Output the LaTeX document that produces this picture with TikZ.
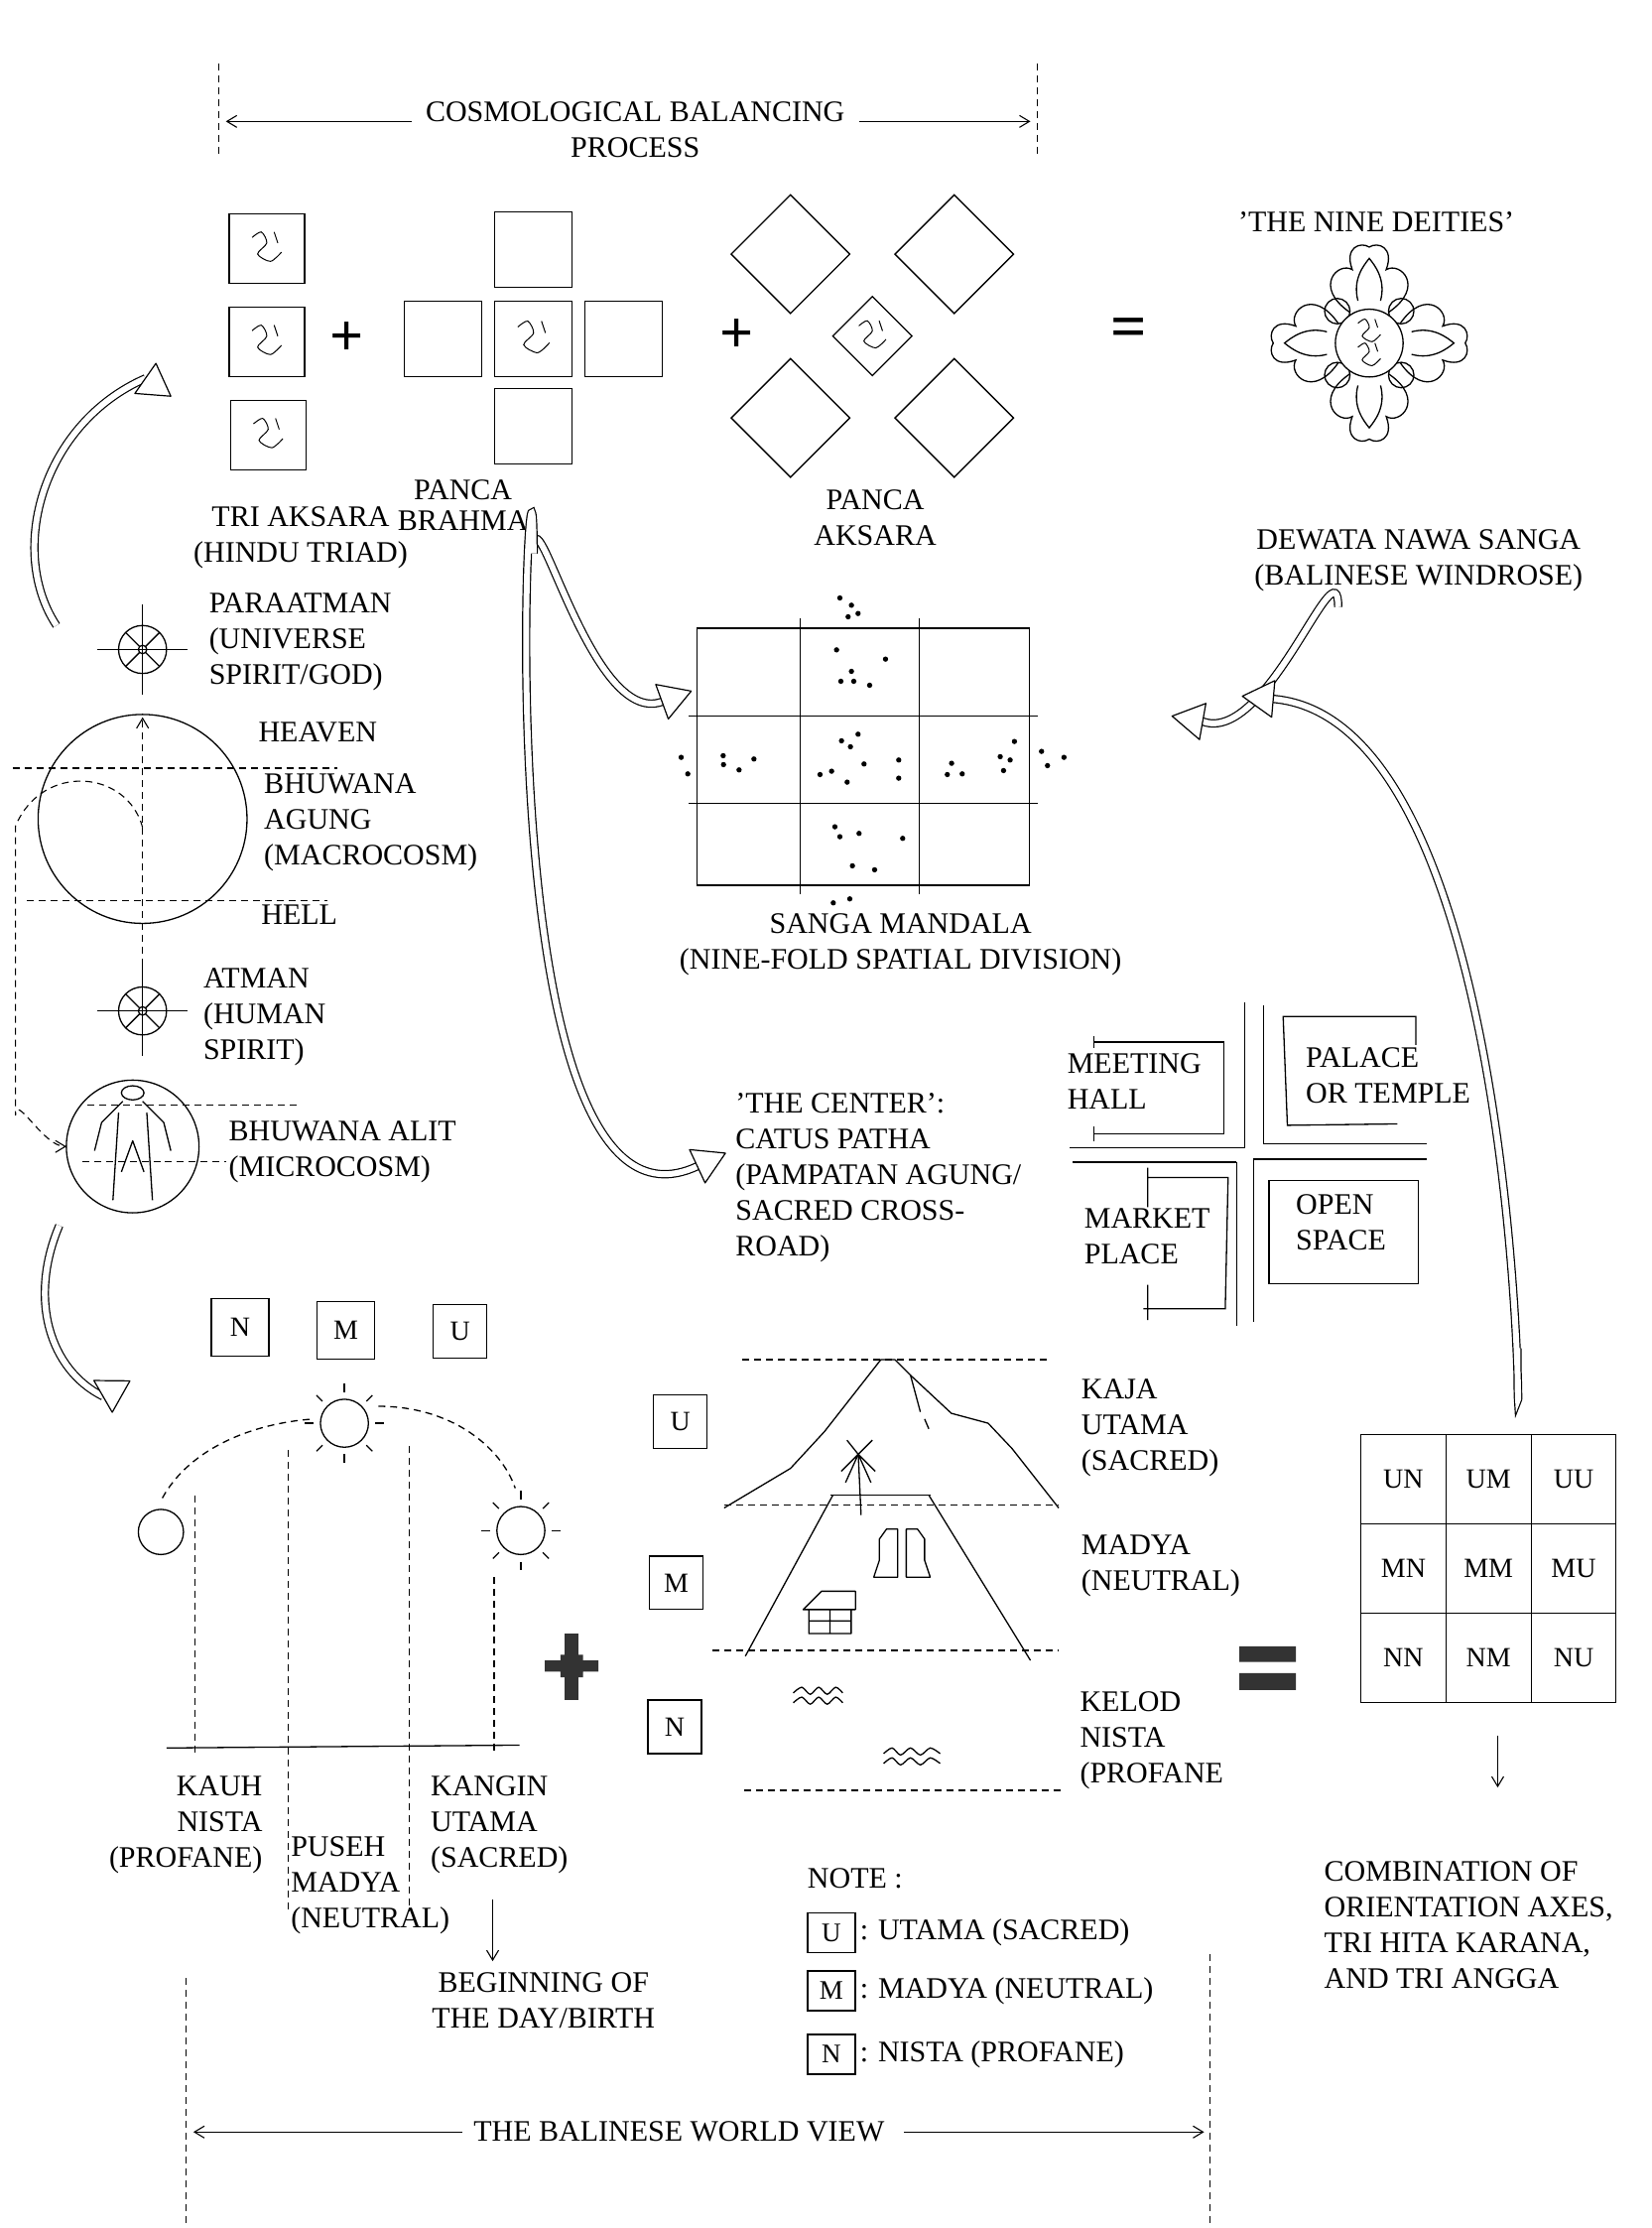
\documentclass[tikz,border=0pt]{standalone}
\usepackage{fontspec}
\setmainfont{Liberation Serif}
\usetikzlibrary{arrows.meta,positioning}
\begin{document}
\begin{tikzpicture}[
   x=1.423pt, y=-1.423pt,
   lbl/.style={font=\fontsize{30}{36}\selectfont, align=left, inner sep=0pt},
   lblc/.style={lbl, align=center},
   box/.style={draw, line width=1.3pt, inner sep=0pt},
   lbox/.style={draw, line width=1.3pt, minimum size=58pt, inner sep=0pt, font=\fontsize{28}{30}\selectfont},
   sbox/.style={draw, line width=1.2pt, minimum width=48pt, minimum height=40pt, inner sep=0pt, font=\fontsize{27}{28}\selectfont},
   pen/.style={line width=1.3pt},
   dashline/.style={line width=1.3pt, dash pattern=on 7pt off 5pt},
   barrow/.style={->, line width=1.1pt, >={Straight Barb[length=10pt,width=12pt]}},
   hollow/.style={line width=1.2pt, double=white, double distance=6pt},
   hhead/.pic={\draw[line width=1.2pt, fill=white, line join=round]
      (0,-13) -- (0,13) -- (22,0) -- cycle;},
   wheel/.pic={\draw[pen] (0,0) circle (17); \draw[pen] (0,0) circle (3);
      \foreach \a in {0,45,...,315} \draw[pen] (\a:3) -- (\a:17);
      \draw[pen] (-32,0) -- (32,0) (0,-32) -- (0,32);},
   glyph/.pic={\draw[line width=1pt] plot[smooth] coordinates {(-8,-6) (-3,-9) (0,-3) (-5,3) (2,7) (8,2)}
      (4,-9) -- (6,-3);},
   sun/.pic={\draw[pen] (0,0) circle (17);
      \foreach \a in {0,45,...,315} \draw[pen] (\a:22) -- (\a:28);}
]
\useasboundingbox (0,0) rectangle (1170,1578);

% Cosmological balancing process
\draw[dashline] (155,45) -- (155,110);
\draw[dashline] (735,45) -- (735,110);
\node[lblc, anchor=north] (cosmo) at (450,72) {COSMOLOGICAL BALANCING\\PROCESS};
\coordinate (cosL) at (160,86);
\coordinate (cosR) at (730,86);
\draw[barrow] (cosmo.north west |- 0,86) ++(-10,0) -- (cosL);
\draw[barrow] (cosmo.north east |- 0,86) ++(10,0) -- (cosR);

% Tri aksara
\node[box, minimum width=76pt, minimum height=70pt] (tri1) at (189,176) {};
\node[box, minimum width=76pt, minimum height=70pt] (tri2) at (189,242) {};
\node[box, minimum width=76pt, minimum height=70pt] (tri3) at (190,308) {};
\foreach \n in {tri1,tri2,tri3} \pic[scale=1.3] at (\n) {glyph};
\node[font=\fontsize{60}{60}\selectfont\bfseries] (plus1) at (246,240) {+};

% Panca brahma
\node[box, minimum width=78pt, minimum height=76pt] (pbC) at (378,240) {};
\node[box, minimum width=78pt, minimum height=76pt] (pbN) at (378,177) {};
\node[box, minimum width=78pt, minimum height=76pt] (pbS) at (378,302) {};
\node[box, minimum width=78pt, minimum height=76pt] (pbW) at (314,240) {};
\node[box, minimum width=78pt, minimum height=76pt] (pbE) at (442,240) {};
\pic[scale=1.4] at (pbC) {glyph};
\node[font=\fontsize{60}{60}\selectfont\bfseries] (plus2) at (522,238) {+};

% Panca aksara
\foreach \c/\r in {{(618,238)}/28, {(560,180)}/42, {(676,180)}/42, {(560,296)}/42, {(676,296)}/42}
   \draw[pen] \c ++(-\r,0) -- ++(\r,-\r) -- ++(\r,\r) -- ++(-\r,\r) -- cycle;
\pic[scale=1.2] at (618,238) {glyph};
\node[font=\fontsize{64}{64}\selectfont\bfseries] (eq1) at (800,236) {=};

% Windrose
\node[lblc, anchor=north] (nine) at (975,150) {'THE NINE DEITIES'};
\begin{scope}[shift={(970,243)}]
  \foreach \a in {0,90,180,270}{
    \draw[pen, rotate=\a] (22,-14) .. controls (40,-40) and (58,-22) .. (52,-12)
       .. controls (68,-18) and (72,-6) .. (68,0)
       .. controls (72,6) and (68,18) .. (52,12)
       .. controls (58,22) and (40,40) .. (22,14);
    \draw[pen, rotate=\a] (30,-8) .. controls (45,-12) and (55,-4) .. (60,0)
       .. controls (55,4) and (45,12) .. (30,8);
    \draw[pen, rotate=\a+45] (32,0) circle (9);
  }
  \draw[pen, fill=white] (0,0) circle (24);
  \pic at (0,-8) {glyph};
  \pic at (0,9) {glyph};
\end{scope}
\node[lblc, anchor=north] (tri) at (213,359) {TRI AKSARA\\(HINDU TRIAD)};
\node[lblc, anchor=north, font=\fontsize{30}{31}\selectfont] (pbl) at (328,340) {PANCA\\BRAHMA};
\node[lblc, anchor=north] (pal) at (620,347) {PANCA\\AKSARA};
\node[lblc, anchor=north] (dewata) at (1005,375) {DEWATA NAWA SANGA\\(BALINESE WINDROSE)};

% Sanga mandala
\draw[pen] (494,445) rectangle (729,627);
\draw[pen] (567,438) -- (567,633) (651,438) -- (651,633);
\draw[pen] (488,507) -- (735,507) (488,569) -- (735,569);
\begin{scope}[shift={(456.8,386.5)}, scale=0.2342]
\foreach \p in {(590,158),(625,180),(615,215),(645,205),(580,315),(728,343),(625,380),(593,410),(632,410),(680,422),(595,590),(645,570),(622,608),(663,660),(530,692),(565,682),(612,715),(768,648),(768,703),(237,635),(238,662),(285,678),(330,645),(110,640),(130,690),(928,658),(915,692),(960,690),(1118,592),(1075,638),(1105,648),(1085,680),(1200,622),(1218,665),(1268,640),(575,850),(590,880),(648,870),(780,885),(628,968),(695,980),(570,1080),(620,1068)}
   \fill \p circle (8);
\end{scope}
\node[lblc, anchor=north] (sanga) at (638,647) {SANGA MANDALA\\(NINE-FOLD SPATIAL DIVISION)};

% Macrocosm
\pic at (101,460) {wheel};
\node[lbl, anchor=north west] (para) at (148,420) {PARAATMAN\\(UNIVERSE\\SPIRIT/GOD)};
\draw[pen] (101,580) circle (74);
\draw[dashline] (9,544) -- (239,544);
\draw[dashline] (19,638) -- (232,638);
\coordinate (heavenTop) at (101,508);
\draw[dashline, barrow] (101,684) -- (heavenTop);
\node[lbl, anchor=north west] (heaven) at (183,511) {HEAVEN};
\node[lbl, anchor=north west] (agung) at (187,548) {BHUWANA\\AGUNG\\(MACROCOSM)};
\node[lbl, anchor=north west] (hell) at (185,641) {HELL};
\pic at (101,716) {wheel};
\node[lbl, anchor=north west] (atman) at (144,686) {ATMAN\\(HUMAN\\SPIRIT)};

% Microcosm
\draw[pen] (94,812) circle (47);
\draw[dashline, line width=1pt] (62,783) -- (212,783) (58,823) -- (160,823);
\draw[pen] (94,774) ellipse (8 and 5);
\draw[pen, line join=round] (87,780) -- (72,795) -- (67,815) (101,780) -- (116,795) -- (121,815)
   (84,788) -- (80,850) (104,788) -- (108,850) (86,830) -- (94,808) -- (102,830);
\node[lbl, anchor=north west] (alit) at (162,794) {BHUWANA ALIT\\(MICROCOSM)};
\coordinate (alitIn) at (47,812);
\draw[dashline, barrow] (101,586) .. controls (90,545) and (30,540) .. (11,585)
   -- (11,790) to[out=90,in=180] (alitIn);

% Hollow arrows
\draw[hollow] (40,443) .. controls (5,390) and (30,300) .. (103,268);
\pic[rotate=-35] at (103,268) {hhead};
\draw[hollow] (42,868) .. controls (20,920) and (35,970) .. (73,989);
\pic[rotate=30] at (73,989) {hhead};
\coordinate (pbOut) at (378,392);
\draw[hollow] (pbOut) to[out=90,in=200] (469,497);
\pic[rotate=20] at (469,497) {hhead};
\draw[hollow] (pbOut) to[out=90,in=205] (494,826);
\pic[rotate=25] at (494,826) {hhead};
\draw[hollow] (948,430) to[out=90,in=-20] (852,511);
\pic[rotate=170] at (852,511) {hhead};
\draw[hollow] (1075,955) to[out=-90,in=-5] (902,495);
\pic[rotate=175] at (902,495) {hhead};

% Crossroad
\draw[pen] (882,710) -- (882,813) (895,712) -- (895,810);
\draw[pen] (876,823) -- (876,939) (888,821) -- (888,936);
\draw[pen] (758,813) -- (882,813) (895,810) -- (1011,810);
\draw[pen] (760,823) -- (876,823) (888,821) -- (1011,821);
\draw[pen] (775,734) -- (775,742) (775,738) -- (867,738) -- (867,803) -- (775,803) (775,798) -- (775,808);
\draw[pen] (1003,740) -- (1003,720) -- (909,720) -- (912,797) -- (990,796);
\draw[pen] (813,827) -- (813,855) (813,834) -- (870,834) -- (868,927) -- (810,927) (813,910) -- (813,935);
\draw[pen] (899,836) rectangle (1005,909);
\node[lbl, anchor=north west] (meet) at (756,746) {MEETING\\HALL};
\node[lbl, anchor=north west] (palace) at (925,742) {PALACE\\OR TEMPLE};
\node[lbl, anchor=north west] (market) at (768,856) {MARKET\\PLACE};
\node[lbl, anchor=north west] (open) at (918,846) {OPEN\\SPACE};
\node[lbl, anchor=north west] (center) at (521,774) {'THE CENTER':\\CATUS PATHA\\(PAMPATAN AGUNG/\\SACRED CROSS-\\ROAD)};

% Daily path of the sun
\node[lbox] (kN) at (170,940) {N};
\node[lbox] (kM) at (245,942) {M};
\node[lbox, minimum size=54pt] (kU) at (326,943) {U};
\pic at (244,1008) {sun};
\draw[pen] (114,1085) circle (16);
\pic at (369,1084) {sun};
\draw[dashline] (115,1061) .. controls (135,1025) and (180,1008) .. (222,1005);
\draw[dashline] (268,996) .. controls (320,996) and (355,1025) .. (365,1054);
\draw[dashline] (138,1059) -- (138,1242);
\draw[dashline] (204,1027) -- (204,1354);
\draw[dashline] (290,1024) -- (290,1354);
\draw[dashline] (350,1117) -- (350,1242);
\draw[pen] (118,1238) -- (368,1236);
\node[lbl, align=right, anchor=north east] (kauh) at (186,1258) {KAUH\\NISTA\\(PROFANE)};
\node[lbl, anchor=north west] (puseh) at (206,1301) {PUSEH\\MADYA\\(NEUTRAL)};
\node[lbl, anchor=north west] (kangin) at (305,1258) {KANGIN\\UTAMA\\(SACRED)};
\coordinate (birthTop) at (349,1345);
\coordinate (birthBot) at (349,1389);
\draw[barrow] (birthTop) -- (birthBot);
\node[lblc, anchor=north] (birth) at (385,1397) {BEGINNING OF\\THE DAY/BIRTH};
\fill[black!80] (397,1172) rectangle (413,1188) (386,1176) rectangle (424,1184);
\fill[black!80] (400,1157) rectangle (410,1204);

% Mountain
\node[lbox, minimum size=54pt] (mU) at (482,1007) {U};
\node[lbox, minimum size=54pt] (mM) at (479,1121) {M};
\node[lbox, minimum size=54pt] (mN) at (478,1223) {N};
\draw[dashline] (526,963) -- (745,963);
\draw[dashline] (513,1066) -- (750,1066);
\draw[dashline] (505,1169) -- (750,1169);
\draw[dashline] (527,1268) -- (752,1268);
\draw[pen, line join=round] (513,1068) -- (560,1040) -- (584,1014) -- (624,963) -- (634,963)
   -- (645,974) -- (674,1001) -- (700,1008) -- (717,1026) -- (750,1068);
\draw[pen] (645,974) -- (652,1000) (655,1005) -- (658,1012);
\draw[pen] (588,1059) -- (659,1059);
\draw[pen] (590,1059) -- (528,1173);
\draw[pen] (658,1059) -- (730,1176);
% palm
\draw[pen] (610,1073) -- (608,1030);
\draw[pen] (608,1030) -- (596,1042) (608,1030) -- (620,1042) (608,1030) -- (600,1020) (608,1030) -- (618,1020)
   (608,1030) -- (599,1050) (608,1030) -- (617,1050);
% temple
\draw[pen, line join=round] (619,1117) -- (623,1105) -- (623,1090) -- (628,1083) -- (636,1083) -- (636,1117) -- cycle;
\draw[pen, line join=round] (659,1117) -- (655,1105) -- (655,1090) -- (650,1083) -- (642,1083) -- (642,1117) -- cycle;
% house
\draw[pen, line join=round] (569,1140) -- (582,1127) -- (606,1127) -- (606,1140) -- cycle
   (573,1140) rectangle (603,1157) (588,1140) -- (588,1157) (573,1148) -- (603,1148);
% waves
\foreach \yy in {0,7} {
  \draw[pen] plot[smooth] coordinates {(562,1199+\yy) (568,1195+\yy) (574,1200+\yy) (580,1195+\yy) (586,1200+\yy) (592,1195+\yy) (597,1199+\yy)};
  \draw[pen] plot[smooth] coordinates {(626,1242+\yy) (632,1238+\yy) (638,1243+\yy) (645,1238+\yy) (652,1243+\yy) (659,1238+\yy) (666,1242+\yy)};
}
\node[lbl, anchor=north west] (kaja) at (766,977) {KAJA\\UTAMA\\(SACRED)};
\node[lbl, anchor=north west] (madya) at (766,1087) {MADYA\\(NEUTRAL)};
\node[lbl, anchor=north west] (kelod) at (765,1198) {KELOD\\NISTA\\(PROFANE};
\fill[black!80] (878,1166) rectangle (918,1177) (878,1185) rectangle (918,1197);

% Combination grid
\foreach \t [count=\i from 0] in {UN,UM,UU,MN,MM,MU,NN,NM,NU} {
  \pgfmathtruncatemacro\col{mod(\i,3)}
  \pgfmathtruncatemacro\row{int(\i/3)}
  \node[draw, line width=1pt, minimum width=85.8pt, minimum height=90pt, font=\fontsize{28}{30}\selectfont, inner sep=0pt]
     (g\i) at (994.2+60.3*\col,1047.7+63.3*\row) {\t};
}
\coordinate (combTop) at (1061,1229);
\coordinate (combBot) at (1061,1266);
\draw[barrow] (combTop) -- (combBot);
\node[lbl, anchor=north west] (comb) at (938,1318) {COMBINATION OF\\ORIENTATION AXES,\\TRI HITA KARANA,\\AND TRI ANGGA};

% Note
\node[lbl, anchor=north west] (note) at (572,1323) {NOTE :};
\node[sbox] (nU) at (589,1369) {U};
\node[lbl, anchor=west, right=4pt of nU] {: UTAMA (SACRED)};
\node[sbox] (nM) at (589,1410) {M};
\node[lbl, anchor=west, right=4pt of nM] {: MADYA (NEUTRAL)};
\node[sbox] (nN) at (589,1455) {N};
\node[lbl, anchor=west, right=4pt of nN] {: NISTA (PROFANE)};

% World view
\draw[dashline] (132,1401) -- (132,1578);
\draw[dashline] (857,1384) -- (857,1578);
\node[lblc] (world) at (481,1510) {THE BALINESE WORLD VIEW};
\coordinate (wvL) at (137,1510);
\coordinate (wvR) at (853,1510);
\draw[barrow] (world.west) ++(-8,0) -- (wvL);
\draw[barrow] (world.east) ++(14,0) -- (wvR);
\end{tikzpicture}
\end{document}
